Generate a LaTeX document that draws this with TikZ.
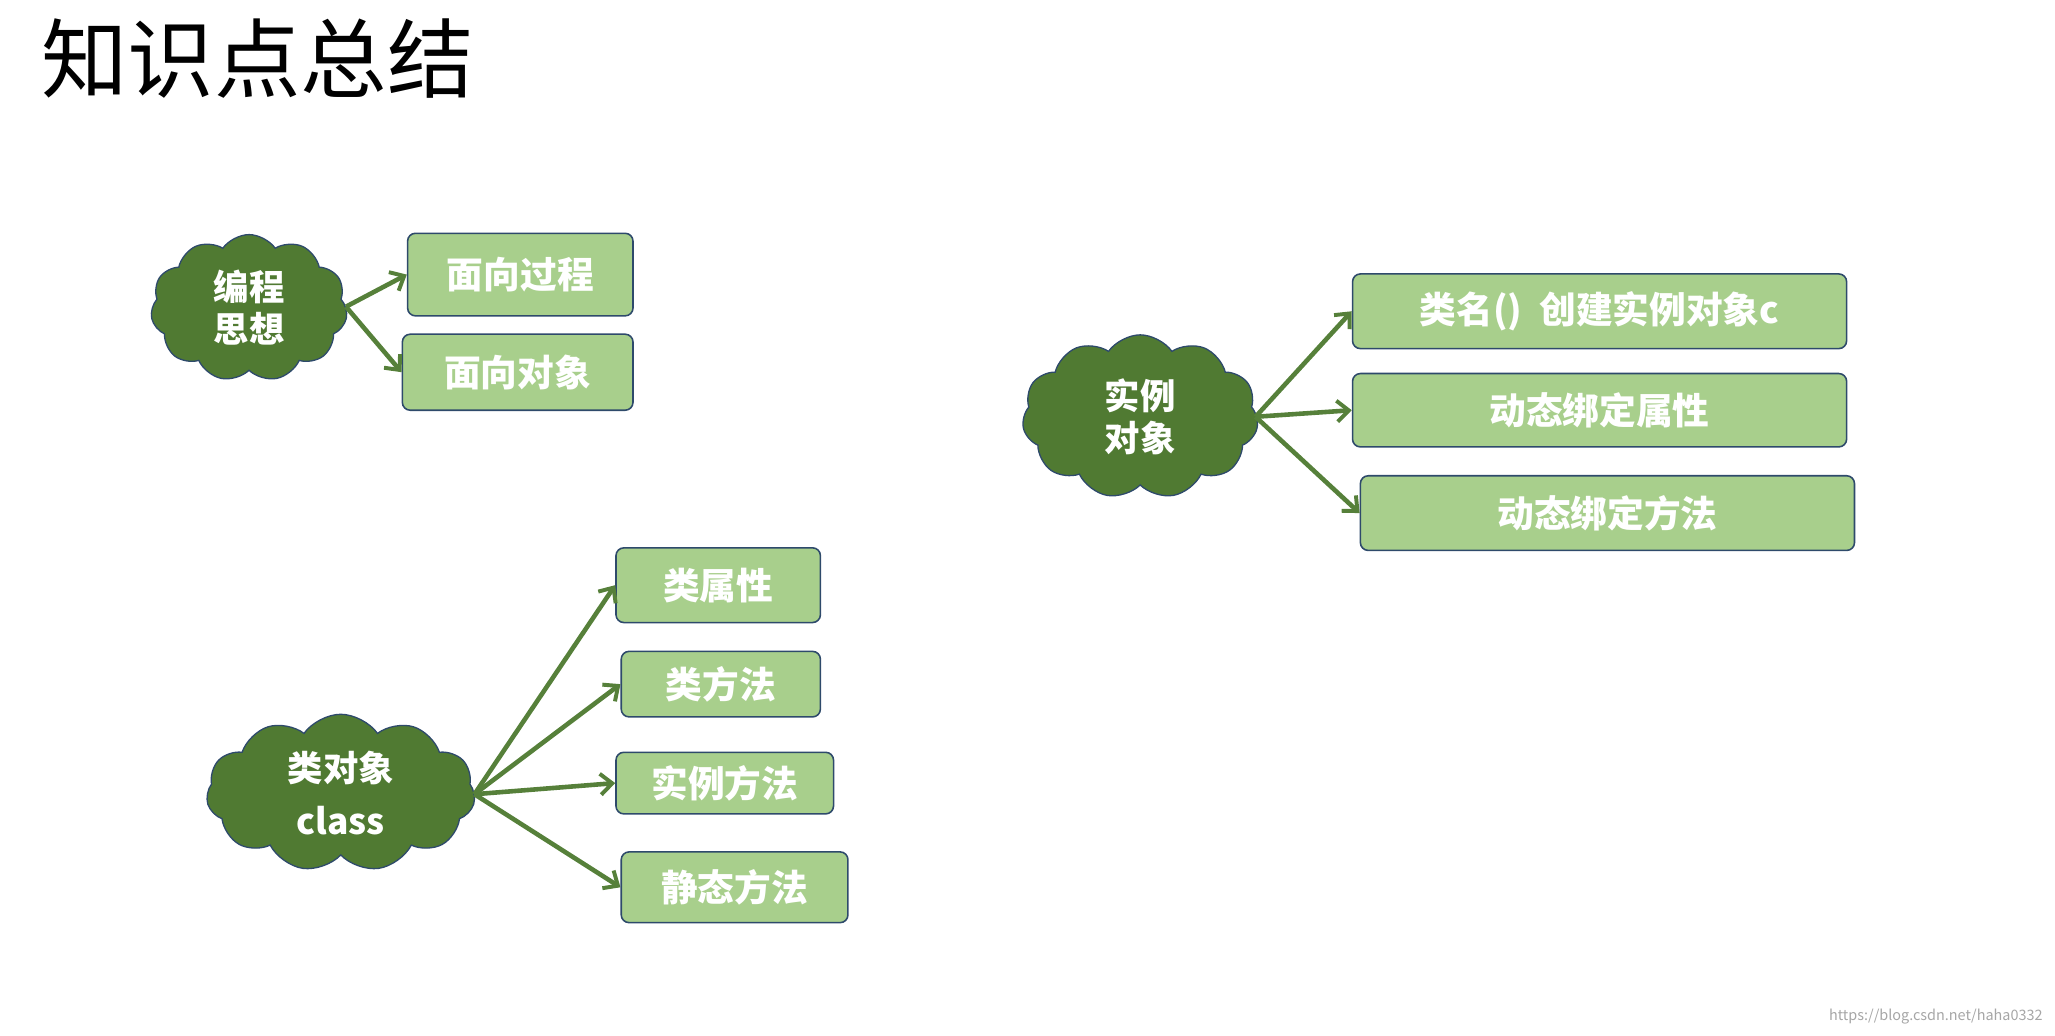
\documentclass[tikz,border=0pt]{standalone}
\usepackage{fontspec}
\setmainfont{Noto Sans CJK SC}
\setsansfont{Noto Sans CJK SC}
\usetikzlibrary{shapes.symbols,arrows.meta}
\definecolor{cloudg}{HTML}{507A32}
\definecolor{boxg}{HTML}{A8CF8C}
\definecolor{edgeb}{HTML}{2E4A6B}
\definecolor{arrg}{HTML}{56803A}
\tikzset{
 cl/.style={cloud, cloud puffs=11, cloud puff arc=110, aspect=1.3, draw=edgeb, line width=1pt, fill=cloudg, text=white, font=\bfseries\fontsize{27}{32}\selectfont, align=center, inner sep=0pt},
 bx/.style={draw=edgeb, line width=1.2pt, fill=boxg, rounded corners=6pt, text=white, font=\bfseries\fontsize{28}{32}\selectfont, inner sep=0pt},
 ar/.style={draw=arrg, line width=3.5pt, -{Straight Barb[length=9pt,width=16pt,line width=3pt]}}
}
\begin{document}
\begin{tikzpicture}[x=1pt,y=-1pt]
\useasboundingbox (0,0) rectangle (1568,790);
\node[anchor=west, font=\fontsize{66}{70}\selectfont, text=black] (title) at (28,45) {知识点总结};
% cloud 1
\node[cl, minimum width=150, minimum height=112] (c1) at (190,235) {编程\\思想};
\node[bx, minimum width=172, minimum height=63] (b11) at (397,209.5) {面向过程};
\node[bx, minimum width=176, minimum height=58] (b12) at (395,284) {面向对象};
\coordinate (s1) at (264,234);
\draw[ar] (s1) -- (b11.west);
\draw[ar] (s1) -- (b12.west);
% cloud 2
\node[cl, minimum width=180, minimum height=125] (c2) at (870,318) {实例\\对象};
\node[bx, minimum width=377, minimum height=57] (b21) at (1220.5,237.5) {类名()\ \ 创建实例对象c};
\node[bx, minimum width=377, minimum height=56] (b22) at (1220.5,313) {动态绑定属性};
\node[bx, minimum width=377, minimum height=57] (b23) at (1226.5,391.5) {动态绑定方法};
\coordinate (s2) at (958,318);
\draw[ar] (s2) -- (b21.west);
\draw[ar] (s2) -- (b22.west);
\draw[ar] (s2) -- (b23.west);
% cloud 3
\node[cl, minimum width=205, minimum height=120, font=\bfseries\fontsize{27}{40}\selectfont] (c3) at (260,605) {类对象\\class};
\node[bx, minimum width=156, minimum height=57] (b31) at (548,446.5) {类属性};
\node[bx, minimum width=152, minimum height=50] (b32) at (550,522) {类方法};
\node[bx, minimum width=166, minimum height=47] (b33) at (553,597.5) {实例方法};
\node[bx, minimum width=173, minimum height=54] (b34) at (560.5,677) {静态方法};
\coordinate (s3) at (362,606);
\draw[ar] (s3) -- (b31.west);
\draw[ar] (s3) -- (b32.west);
\draw[ar] (s3) -- (b33.west);
\draw[ar] (s3) -- (b34.west);
\node[anchor=east, text=gray!70, font=\fontsize{11}{13}\selectfont] (wm) at (1562,776) {https://blog.csdn.net/haha0332};
\end{tikzpicture}
\end{document}
